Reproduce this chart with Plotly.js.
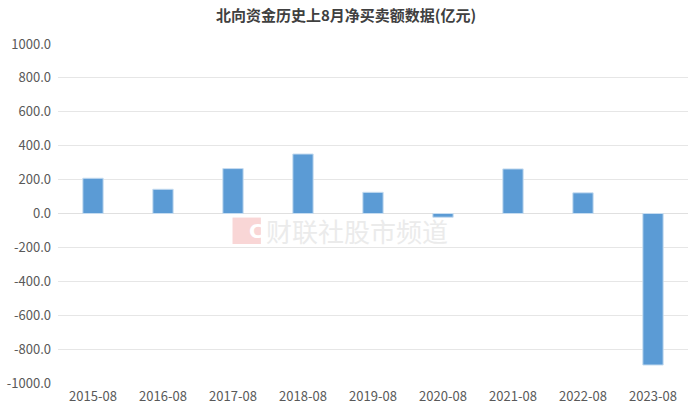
<!DOCTYPE html>
<html><head><meta charset="utf-8">
<script src="https://cdn.plot.ly/plotly-3.0.1.min.js"></script>
<style>html,body{margin:0;padding:0;background:#fff;}#c{width:692px;height:416px;}</style>
</head><body><div id="c"></div>
<script>
const categories = ['2015-08','2016-08','2017-08','2018-08','2019-08','2020-08','2021-08','2022-08','2023-08'];
const netBuy = [208, 143, 265, 351, 125, -22, 263, 122, -894];
const yTicks = [-1000,-800,-600,-400,-200,0,200,400,600,800,1000];
const yTickText = yTicks.map(v => v.toFixed(1));
const titleText = '北向资金历史上8月净买卖额数据(亿元)';
const watermark = '财联社股市频道';

const font = '"Microsoft YaHei","Noto Sans CJK SC","DejaVu Sans",sans-serif';
Plotly.newPlot('c', [{
  type: 'bar', x: categories, y: netBuy,
  marker: {color: '#5b9bd5', line: {color: '#c6dcf0', width: 1}},
  hoverinfo: 'x+y'
}], {
  width: 692, height: 416,
  margin: {l: 58, r: 4, t: 44, b: 33},
  paper_bgcolor: '#fff', plot_bgcolor: '#fff',
  title: {text: '<b>' + titleText + '</b>', x: 0.5, xanchor: 'center', y: 0.962, yanchor: 'middle',
          font: {family: font, size: 15, color: '#404040'}},
  bargap: 0.71,
  xaxis: {type: 'category', showgrid: false, zeroline: false, showline: false, ticks: '',
          tickfont: {family: font, size: 13, color: '#595959'}, ticklabelstandoff: 4},
  yaxis: {range: [-1000, 1000], tickvals: yTicks, ticktext: yTickText,
          showgrid: true, gridcolor: '#e6e6e6', gridwidth: 1,
          zeroline: true, zerolinecolor: '#e0e0e0', zerolinewidth: 1.5,
          tickfont: {family: font, size: 13, color: '#595959'}, ticks: '', ticklabelstandoff: 6},
  shapes: [{type: 'rect', xref: 'paper', yref: 'paper', x0: 0.277, x1: 0.322, y0: 0.41, y1: 0.488,
            fillcolor: '#f9d6d6', line: {width: 0}, layer: 'below'}],
  annotations: [
    {text: '<b>C</b>', xref: 'paper', yref: 'paper', x: 0.2995, y: 0.449, showarrow: false,
     font: {family: 'DejaVu Sans', size: 20, color: '#ffffff'}},
    {text: watermark, xref: 'paper', yref: 'paper', x: 0.331, xanchor: 'left', xshift: -3, y: 0.449, showarrow: false,
     font: {family: font, size: 26, color: '#ebebeb'}}
  ],
  showlegend: false
}, {displayModeBar: false, staticPlot: true});
</script></body></html>
